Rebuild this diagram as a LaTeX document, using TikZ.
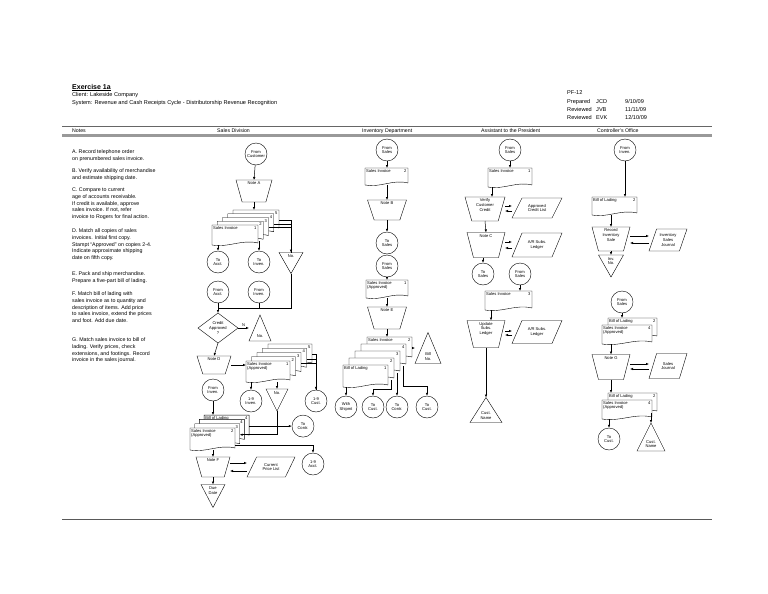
\documentclass[tikz,border=0pt]{standalone}
\usepackage{fontspec}
\setmainfont{Liberation Sans}
\usetikzlibrary{arrows.meta,calc}
\newcommand\ft{\fontsize{4.1}{4.7}\selectfont}
\newcommand\fn{\fontsize{5.3}{6.8}\selectfont}
\newcommand\fh{\fontsize{5.6}{6.8}\selectfont}
\newcommand\fc{\fontsize{5.2}{6}\selectfont}
\tikzset{
 box/.style={inner sep=0,outer sep=0,draw=none},
 circ/.style={circle,draw,line width=0.4pt,minimum size=22,inner sep=0,align=center,font=\ft},
 arr/.style={-{Latex[length=3pt,width=2.4pt]},line width=0.5pt},
 ln/.style={line width=0.5pt},
 shp/.style={line width=0.4pt},
}
\newcommand\docu[7]{%
 \node[box,minimum width=#4,minimum height=#5,anchor=north west] (#1) at (#2,#3) {};
 \filldraw[shp,fill=white] (#1.north west) -- (#1.north east) -- ([yshift=2]#1.south east) .. controls ([xshift={-0.35*#4},yshift=6]#1.south east) and ([xshift={0.35*#4},yshift=-3]#1.south west) .. (#1.south west) -- cycle;
 \node[font=\ft,anchor=north west,align=left,inner sep=1] at (#1.north west) {#6};
 \node[font=\ft,anchor=north east,inner sep=1.5] at (#1.north east) {#7};}
\newcommand\mop[6]{%
 \node[box,minimum width=#4,minimum height=#5] (#1) at (#2,#3) {};
 \draw[shp] (#1.north west) -- (#1.north east) -- ([xshift={-0.17*#4}]#1.south east) -- ([xshift={0.17*#4}]#1.south west) -- cycle;
 \node[font=\ft,align=center,anchor=north,inner sep=0] at ([yshift=-1.5]#1.north) {#6};}
\newcommand\para[6]{%
 \node[box,minimum width=#4,minimum height=#5,align=center,font=\ft] (#1) at (#2,#3) {#6};
 \draw[shp] ([xshift={0.2*#4}]#1.north west) -- (#1.north east) -- ([xshift={-0.2*#4}]#1.south east) -- (#1.south west) -- cycle;}
\newcommand\trid[6]{%
 \node[box,minimum width=#4,minimum height=#5] (#1) at (#2,#3) {};
 \draw[shp] (#1.north west) -- (#1.north east) -- (#1.south) -- cycle;
 \node[font=\ft,align=center,anchor=north,inner sep=0] at ([yshift=-2]#1.north) {#6};}
\newcommand\triu[6]{%
 \node[box,minimum width=#4,minimum height=#5] (#1) at (#2,#3) {};
 \draw[shp] (#1.south west) -- (#1.south east) -- (#1.north) -- cycle;
 \node[font=\ft,align=center,anchor=south,inner sep=0] at ([yshift=3]#1.south) {#6};}
\begin{document}
\begin{tikzpicture}[x=1pt,y=-1pt]
\useasboundingbox (0,0) rectangle (768,594);
\fill[white] (0,0) rectangle (768,594);
% header
\node[font=\fontsize{7}{8}\selectfont\bfseries,anchor=base west,inner sep=0] (title) at (72,89) {\underline{Exercise 1a}};
\node[font=\fh,anchor=base west,inner sep=0] (client) at (72,96) {Client: Lakeside Company};
\node[font=\fh,anchor=base west,inner sep=0] (system) at (72,104) {System: Revenue and Cash Receipts Cycle - Distributorship Revenue Recognition};
\node[font=\fh,anchor=base west,inner sep=0] (pf) at (567,94) {PF-12};
\node[font=\fh,anchor=base west,inner sep=0] (p1) at (567,103) {Prepared};
\node[font=\fh,anchor=base west,inner sep=0] (p2) at (596,103) {JCD};
\node[font=\fh,anchor=base west,inner sep=0] (p3) at (625,103) {9/10/09};
\node[font=\fh,anchor=base west,inner sep=0] (r1) at (567,111) {Reviewed};
\node[font=\fh,anchor=base west,inner sep=0] (r2) at (596,111) {JVB};
\node[font=\fh,anchor=base west,inner sep=0] (r3) at (625,111) {11/11/09};
\node[font=\fh,anchor=base west,inner sep=0] (e1) at (567,119) {Reviewed};
\node[font=\fh,anchor=base west,inner sep=0] (e2) at (596,119) {EVK};
\node[font=\fh,anchor=base west,inner sep=0] (e3) at (625,119) {12/10/09};
\draw[gray!80!black,line width=0.6pt] (62,126) -- (712,126);
\draw[gray!80,line width=2.6pt] (62,135.5) -- (712,135.5);
\foreach \x/\t in {72/Notes,217/Sales Division,362/Inventory Department,481/Assistant to the President,597/Controller's Office}
 \node[font=\fc,anchor=base west,inner sep=0] at (\x,132.3) {\t};
\draw[gray!70!black,line width=0.6pt] (62,519) -- (712,519);
% notes
\tikzset{note/.style={font=\fn,anchor=north west,align=left,inner sep=0}}
\node[note] (nA) at (72,149.5) {A. Record telephone order\\on prenumbered sales invoice.};
\node[note] (nB) at (72,168.5) {B. Verify availability of merchandise\\and estimate shipping date.};
\node[note] (nC) at (72,187.5) {C. Compare to current\\age of accounts receivable.\\If credit is available, approve\\sales invoice. If not, refer\\invoice to Rogers for final action.};
\node[note] (nD) at (72,228.5) {D. Match all copies of sales\\invoices. Initial first copy.\\Stampt ``Approved'' on copies 2-4.\\Indicate approximate shipping\\date on fifth copy.};
\node[note] (nE) at (72,271.5) {E. Pack and ship merchandise.\\Prepare a five-part bill of lading.};
\node[note] (nF) at (72,291.5) {F. Match bill of lading with\\sales invoice as to quantity and\\description of items. Add price\\to sales invoice, extend the prices\\and foot. Add due date.};
\node[note] (nG) at (72,337.5) {G. Match sales invoice to bill of\\lading. Verify prices, check\\extensions, and footings. Record\\invoice in the sales journal.};
% ===== Sales Division
\node[circ] (fromcust) at (256,154) {From\\Customer};
\mop{noteA}{254}{191}{36}{22}{Note A}
\docu{sA5}{233}{210}{46}{20}{}{5}
\docu{sA4}{227.75}{213.75}{46}{20}{}{4}
\docu{sA3}{222.5}{217.5}{46}{20}{}{3}
\docu{sA2}{217.25}{221.25}{46}{20}{}{2}
\docu{sA1}{212}{225}{46}{20}{Sales Invoice}{1}
\draw[arr] (fromcust) -- (noteA.north);
\draw[arr] (noteA.south) -- (noteA.south |- sA5.north);
\node[circ] (toacct) at (218,262) {To\\Acct.};
\node[circ] (toinven) at (259,262) {To\\Inven.};
\draw[arr] (toacct.north |- sA1.south) -- (toacct);
\draw[arr] (toinven.north |- sA2.south) -- (toinven);
\trid{noA}{291}{263}{24}{21}{No.}
\draw[ln] (sA5.east) -| (noA.north);
\draw[ln] (sA4.east) -| (noA.north);
\draw[arr] (sA3.east) -| (noA.north);
\node[circ] (fromacct) at (218,292) {From\\Acct.};
\node[circ] (frominven) at (259,292) {From\\Inven.};
\coordinate (jA) at (218,308);
\draw[ln] (noA.south) |- (jA);
\draw[ln] (frominven.south) -- (frominven.south |- jA);
\node[box,minimum width=40,minimum height=30] (credit) at (218,328) {};
\draw[shp] (credit.north) -- (credit.east) -- (credit.south) -- (credit.west) -- cycle;
\node[font=\ft,align=center,inner sep=0] (credittxt) at (credit) {Credit\\Approved\\?};
\draw[arr] (fromacct) -- (credit.north);
\triu{noC}{260}{328}{22}{26}{No.}
\draw[arr] (credit.east) -- (noC.west) node[midway,above,font=\ft,inner sep=1]{N};
\mop{noteD}{214}{365}{34}{18}{Note D}
\draw[arr] (credit.south) -- (noteD.north);
\docu{sD5}{268}{344}{44}{21}{}{5}
\docu{sD4}{262.5}{348.25}{44}{21}{}{4}
\docu{sD3}{257}{352.5}{44}{21}{}{3}
\docu{sD2}{251.5}{356.75}{44}{21}{}{2}
\docu{sD1}{246}{361}{44}{21}{Sales Invoice\\(Approved)}{1}
\draw[arr] (noteD.east) -- (noteD.east -| sD1.west);
\node[circ] (inven19) at (251,401) {1-9\\Inven.};
\draw[arr] (inven19.north |- sD1.south) -- (inven19);
\trid{noD}{277}{400}{22}{22}{No.}
\draw[arr] (noD.north |- sD1.south) -- (noD.north);
\node[circ] (cust19) at (316,401) {1-9\\Cust.};
\draw[ln] (sD5.east) -| (cust19.north);
\draw[ln] (sD4.east) -| (cust19.north);
\draw[arr] (sD3.east) -| (cust19.north);
\node[circ] (frominv2) at (213,390) {From\\Inven.};
\docu{sF4}{204.1}{415.1}{45}{22}{Bill of Lading}{4}
\docu{sF3}{199.4}{419.4}{45}{22}{}{4}
\docu{sF2}{194.7}{423.7}{45}{22}{}{3}
\docu{sF1}{190}{428}{45}{22}{Sales Invoice\\(Approved)}{2}
\draw[arr] (frominv2.south) -- (frominv2.south |- sF4.north);
\node[circ] (tocontr) at (303,426.1) {To\\Contr.};
\draw[arr] (sF4.east) -- (tocontr.west);
\draw[arr] (noD.south) |- (sF2.east);
\node[circ] (acct19) at (313,464) {1-9\\Acct.};
\draw[arr] ([yshift=-6]sF1.east) -| (acct19.north);
\mop{noteF}{213}{467}{34}{20}{Note F}
\draw[arr] (noteF.north |- sF1.south) -- (noteF.north);
\para{price}{271}{467}{48}{20}{Current\\Price List}
\draw[arr] ([yshift=4]noteF.east) -- ([yshift=4]noteF.east -| price.west);
\draw[arr] ([yshift=-4]price.west) -- ([yshift=-4]noteF.east);
\trid{duedate}{213}{496}{24}{23}{Due\\Date}
\draw[arr] (noteF.south) -- (duedate.north);
% ===== Inventory
\node[circ] (fromsalesI) at (387,150) {From\\Sales};
\docu{siI2}{365}{168}{43}{17}{Sales Invoice}{2}
\mop{noteB}{387}{210}{39}{20}{Note B}
\node[circ] (tosalesI) at (387,243) {To\\Sales};
\node[circ] (fromsalesI2) at (387,266) {From\\Sales};
\docu{siI1}{366}{280}{42}{18}{Sales Invoice\\(Approved)}{1}
\mop{noteE}{387}{318}{39}{22}{Note E}
\docu{iS5}{367}{337}{45}{22}{Sales Invoice}{2}
\docu{iS4}{361}{344}{45}{22}{}{4}
\docu{iS3}{355}{351}{45}{22}{}{3}
\docu{iS2}{349}{358}{45}{22}{}{2}
\docu{iS1}{343}{365}{45}{22}{Bill of Lading}{1}
\draw[arr] (fromsalesI) -- (fromsalesI |- siI2.north);
\draw[arr] (noteB.north |- siI2.south) -- (noteB.north);
\draw[arr] (noteB.south) -- (tosalesI);
\draw[arr] (fromsalesI2) -- (fromsalesI2 |- siI1.north);
\draw[arr] (noteE.north |- siI1.south) -- (noteE.north);
\draw[arr] (noteE.south) -- (noteE.south |- iS5.north);
\triu{billno}{428}{348}{26}{31}{Bill\\No.}
\draw[arr] (iS5.east) -- (billno.west);
\node[circ] (withship) at (346,407) {With\\Shipmt};
\node[circ] (tocustI) at (373,407) {To\\Cust.};
\node[circ] (tocontrI) at (397,407) {To\\Contr.};
\node[circ] (tocustI2) at (427,407) {To\\Cust.};
\draw[arr] (withship.north |- iS1.south) -- (withship);
\draw[arr] ([xshift=-3]iS2.south east) |- ([yshift=7]tocustI.north) -- (tocustI.north);
\draw[arr] (tocontrI.north |- iS3.south) -- (tocontrI.north);
\draw[arr] ([xshift=-3]iS4.south east) |- ([yshift=10]tocustI2.north) -- (tocustI2.north);
% ===== Assistant
\node[circ] (fromsalesA) at (510,150) {From\\Sales};
\docu{aSI1}{488}{168}{44}{19}{Sales Invoice}{1}
\mop{verify}{485}{209}{40}{24}{Verify\\Customer\\Credit}
\para{apcl}{537}{208}{50}{20}{Approved\\Credit List}
\mop{noteC}{486}{245}{38}{25}{Note C}
\para{ar1}{537}{245}{50}{24}{A/R Subs.\\Ledger}
\node[circ] (tosalesA) at (483,274) {To\\Sales};
\node[circ] (fromsalesA2) at (520,274) {From\\Sales};
\docu{aSI3}{485}{291}{47}{19}{Sales Invoice}{3}
\mop{update}{486}{334}{38}{27}{Update\\Subs.\\Ledger}
\para{ar2}{537}{332}{50}{23}{A/R Subs.\\Ledger}
\triu{custname}{486}{410}{32}{25}{Cust.\\Name}
\draw[arr] (fromsalesA) -- (fromsalesA |- aSI1.north);
\draw[arr] ([xshift=4]aSI1.south west) -- ([xshift=4]aSI1.south west |- verify.north);
\draw[arr] ([yshift=3]verify.east) -- ([yshift=3]verify.east -| apcl.west);
\draw[arr] ([yshift=-3]apcl.west) -- ([yshift=-3]apcl.west -| verify.east);
\draw[arr] (verify.south) -- (noteC.north);
\draw[arr] ([yshift=3]noteC.east) -- ([yshift=3]noteC.east -| ar1.west);
\draw[arr] ([yshift=-3]ar1.west) -- ([yshift=-3]ar1.west -| noteC.east);
\draw[arr] (tosalesA.north |- noteC.south) -- (tosalesA);
\draw[arr] (fromsalesA2) -- (fromsalesA2 |- aSI3.north);
\draw[arr] ([xshift=6]aSI3.south west) -- ([xshift=6]aSI3.south west |- update.north);
\draw[arr] ([yshift=3]update.east) -- ([yshift=3]update.east -| ar2.west);
\draw[arr] ([yshift=-3]ar2.west) -- ([yshift=-3]ar2.west -| update.east);
\draw[arr] (update.south) -- (custname.north);
% ===== Controller
\node[circ] (frominvC) at (625,150) {From\\Inven.};
\docu{cBOL}{592}{197}{45}{18}{Bill of Lading}{2}
\mop{record}{611}{239}{38}{24}{Record\\Inventory\\Sale}
\para{isj}{668}{240}{38}{22}{Inventory\\Sales\\Journal}
\trid{invno}{611}{266}{25}{22}{Inv.\\No.}
\node[circ] (fromsalesC) at (622,302) {From\\Sales};
\docu{cS2b}{608}{318}{49}{20}{Bill of Lading}{2}
\docu{cS2a}{602}{325}{50}{19}{Sales Invoice\\(Approved)}{4}
\mop{noteG}{611}{367}{38}{25}{Note G}
\para{sj}{668}{366}{38}{25}{Sales\\Journal}
\docu{cS3b}{608}{393}{49}{20}{Bill of Lading}{2}
\docu{cS3a}{602}{400}{50}{19}{Sales Invoice\\(Approved)}{4}
\node[circ] (tocustC) at (609,439) {To\\Cust.};
\triu{custname2}{651}{437}{28}{28}{Cust.\\Name}
\draw[arr] (frominvC) -- (frominvC |- cBOL.north);
\draw[arr] (record.north |- cBOL.south) -- (record.north);
\draw[arr] ([yshift=3]record.east) -- ([yshift=3]record.east -| isj.west);
\draw[arr] ([yshift=-3]isj.west) -- ([yshift=-3]isj.west -| record.east);
\draw[arr] (record.south) -- (invno.north);
\draw[arr] (fromsalesC) -- (fromsalesC |- cS2b.north);
\draw[arr] (noteG.north |- cS2a.south) -- (noteG.north);
\draw[arr] ([yshift=3]noteG.east) -- ([yshift=3]noteG.east -| sj.west);
\draw[arr] ([yshift=-3]sj.west) -- ([yshift=-3]sj.west -| noteG.east);
\draw[arr] (noteG.south) -- (noteG.south |- cS3b.north);
\draw[arr] (tocustC.north |- cS3a.south) -- (tocustC);
\draw[arr] (custname2.north |- cS3b.south) -- (custname2.north);
\end{tikzpicture}
\end{document}
